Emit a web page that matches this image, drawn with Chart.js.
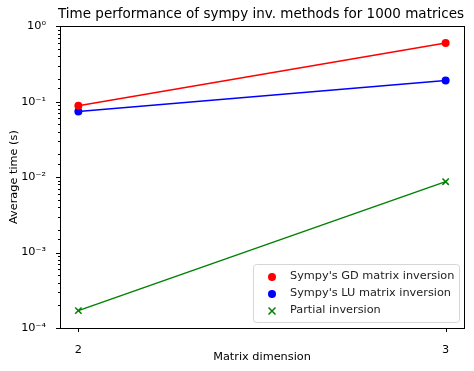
<!DOCTYPE html>
<html>
<head>
<meta charset="utf-8">
<script src="https://cdn.jsdelivr.net/npm/chart.js@4"></script>
<style>
  html, body { margin: 0; padding: 0; background: #fff; }
  #wrap { width: 474px; height: 371px; }
</style>
</head>
<body>
<div id="wrap"><canvas id="grafica"></canvas></div>
<script>
// ===============================
// DATOS
// ===============================
const dims = [2, 3];
const gdTimes = [0.088, 0.60];
const luTimes = [0.074, 0.19];
const partialTimes = [0.00017, 0.0087];

const seriesNames = [
    "Sympy's GD matrix inversion",
    "Sympy's LU matrix inversion",
    "Partial inversion"
];
const seriesColors = ["#ff0000", "#0000ff", "#008000"];
const seriesMarkers = ["circle", "circle", "crossRot"];

const FONT = "'DejaVu Sans', sans-serif";
const supers = { "-": "\u207B", "0": "\u2070", "1": "\u00B9", "2": "\u00B2", "3": "\u00B3", "4": "\u2074" };

function toPoints(values) {
    return dims.map((d, i) => ({ x: d, y: values[i] }));
}

function isDecade(v) {
    const l = Math.log10(v);
    return Math.abs(l - Math.round(l)) < 1e-9;
}

// ===============================
// PLUGIN: marco, ticks y leyenda
// ===============================
const marcoPlugin = {
    id: "marco",
    afterDraw(chart) {
        const ctx = chart.ctx;
        const a = chart.chartArea;
        const xs = chart.scales.x;
        const ys = chart.scales.y;

        ctx.save();
        ctx.strokeStyle = "#000";
        ctx.lineWidth = 1;

        // ticks
        ctx.beginPath();
        xs.ticks.forEach(t => {
            const px = Math.round(xs.getPixelForValue(t.value)) + 0.5;
            ctx.moveTo(px, a.bottom);
            ctx.lineTo(px, a.bottom + 4);
        });
        ys.ticks.forEach(t => {
            const py = Math.round(ys.getPixelForValue(t.value)) + 0.5;
            const len = isDecade(t.value) ? 4 : 2;
            ctx.moveTo(a.left, py);
            ctx.lineTo(a.left - len, py);
        });
        ctx.stroke();

        // marco
        ctx.strokeRect(Math.round(a.left) + 0.5, Math.round(a.top) + 0.5,
            Math.round(a.right - a.left), Math.round(a.bottom - a.top));

        // leyenda
        const w = 206, h = 58;
        const bx = a.right - 5 - w, by = a.bottom - 6 - h;
        ctx.beginPath();
        ctx.roundRect(bx + 0.5, by + 0.5, w, h, 3);
        ctx.fillStyle = "rgba(255,255,255,0.8)";
        ctx.fill();
        ctx.strokeStyle = "#d6d6d6";
        ctx.stroke();

        ctx.font = "11.3px " + FONT;
        ctx.textBaseline = "middle";
        seriesNames.forEach((name, i) => {
            const cy = by + 12 + i * 17;
            const mx = bx + 19;
            ctx.strokeStyle = seriesColors[i];
            ctx.fillStyle = seriesColors[i];
            if (seriesMarkers[i] === "circle") {
                ctx.beginPath();
                ctx.arc(mx, cy + 1, 4, 0, Math.PI * 2);
                ctx.fill();
            } else {
                ctx.lineWidth = 1.5;
                ctx.beginPath();
                ctx.moveTo(mx - 3.5, cy - 2.5); ctx.lineTo(mx + 3.5, cy + 4.5);
                ctx.moveTo(mx + 3.5, cy - 2.5); ctx.lineTo(mx - 3.5, cy + 4.5);
                ctx.stroke();
                ctx.lineWidth = 1;
            }
            ctx.fillStyle = "#222";
            ctx.fillText(name, bx + 37, cy);
        });
        ctx.restore();
    }
};

// ===============================
// GRÁFICA
// ===============================
new Chart(document.getElementById("grafica"), {

    type: "scatter",

    data: {
        datasets: [gdTimes, luTimes, partialTimes].map((vals, i) => ({
            label: seriesNames[i],
            data: toPoints(vals),
            showLine: true,
            borderColor: seriesColors[i],
            backgroundColor: seriesColors[i],
            borderWidth: 1.5,
            pointStyle: seriesMarkers[i],
            pointRadius: seriesMarkers[i] === "circle" ? 4 : 4.5,
            pointBorderWidth: seriesMarkers[i] === "circle" ? 0 : 1.5,
            pointHoverRadius: 4
        }))
    },

    options: {
        responsive: true,
        maintainAspectRatio: false,
        animation: false,
        layout: { padding: { left: 0, right: 10, top: 0, bottom: 0 } },
        plugins: {
            legend: { display: false },
            tooltip: { enabled: false },
            title: {
                display: true,
                align: "end",
                text: "Time performance of sympy inv. methods for 1000 matrices",
                color: "#000",
                font: { family: FONT, size: 13.5, weight: "normal", lineHeight: 1.2 },
                padding: { top: 6, bottom: 4 }
            }
        },
        scales: {
            x: {
                type: "linear",
                min: 1.95,
                max: 3.05,
                grid: { display: false },
                border: { display: false },
                afterBuildTicks: s => { s.ticks = dims.map(v => ({ value: v })); },
                afterFit: s => { s.height = 43; },
                ticks: {
                    color: "#000",
                    padding: 7,
                    font: { family: FONT, size: 11.3 },
                    callback: v => String(v)
                },
                title: {
                    display: true,
                    text: "Matrix dimension",
                    color: "#000",
                    font: { family: FONT, size: 11.3 },
                    padding: { top: 0, bottom: 7 }
                }
            },
            y: {
                type: "logarithmic",
                min: 1e-4,
                max: 1,
                grid: { display: false },
                border: { display: false },
                afterFit: s => { s.width = 60; },
                ticks: {
                    color: "#000",
                    padding: 6,
                    autoSkip: false,
                    font: { family: FONT, size: 11.3 },
                    callback: v => {
                        if (!isDecade(v)) return "";
                        const e = String(Math.round(Math.log10(v)));
                        return "10" + e.split("").map(c => supers[c]).join("");
                    }
                },
                title: {
                    display: true,
                    text: "Average time (s)",
                    color: "#000",
                    font: { family: FONT, size: 11.3 },
                    padding: { top: 7, bottom: 0 }
                }
            }
        }
    },

    plugins: [marcoPlugin]

});
</script>
</body>
</html>
